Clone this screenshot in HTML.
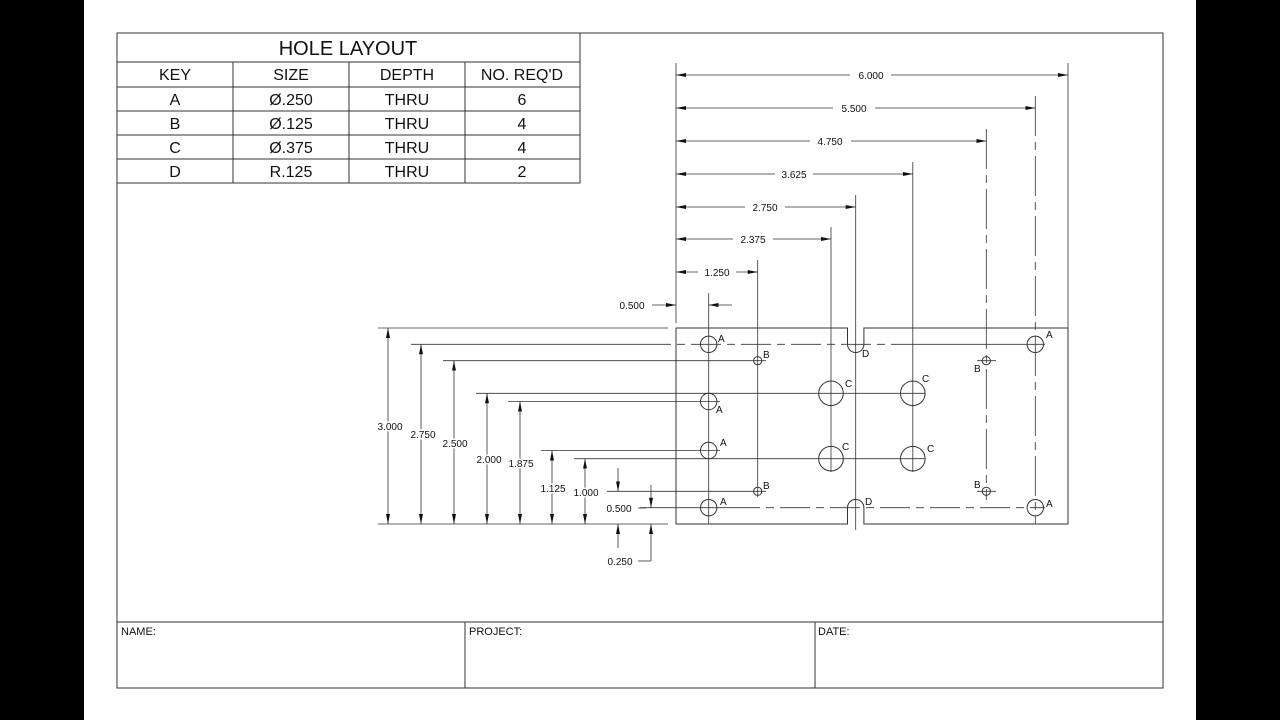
<!DOCTYPE html>
<html><head><style>
html,body{margin:0;padding:0;background:#000;}
svg{display:block;}
text{font-family:"Liberation Sans",sans-serif;fill:#111;}
</style></head><body>
<svg width="1280" height="720" viewBox="0 0 1280 720" xmlns="http://www.w3.org/2000/svg">
<defs>
<marker id="ar" viewBox="0 0 10 4" refX="10" refY="2" markerWidth="10" markerHeight="4" markerUnits="userSpaceOnUse" orient="auto-start-reverse"><path d="M0,0L10,2L0,4z" fill="#111"/></marker>
</defs>
<rect x="84" y="0" width="1112" height="720" fill="#fff"/>
<g stroke="#333" stroke-width="1" fill="none">
<rect x="117" y="33" width="1046" height="655"/>
<line x1="117" y1="622" x2="1163" y2="622"/>
<line x1="465" y1="622" x2="465" y2="688"/>
<line x1="815" y1="622" x2="815" y2="688"/>
<!-- table -->
<polyline points="117,33 580,33 580,183 117,183"/>
<line x1="117" y1="62" x2="580" y2="62"/>
<line x1="117" y1="87" x2="580" y2="87"/>
<line x1="117" y1="111" x2="580" y2="111"/>
<line x1="117" y1="135" x2="580" y2="135"/>
<line x1="117" y1="159" x2="580" y2="159"/>
<line x1="233" y1="62" x2="233" y2="183"/>
<line x1="349" y1="62" x2="349" y2="183"/>
<line x1="465" y1="62" x2="465" y2="183"/>
</g>
<g font-size="16" text-anchor="middle">
<text x="348" y="55" font-size="20">HOLE LAYOUT</text>
<text x="175" y="80">KEY</text><text x="291" y="80">SIZE</text><text x="407" y="80">DEPTH</text><text x="522" y="80">NO. REQ'D</text>
<text x="175" y="105">A</text><text x="291" y="105">Ø.250</text><text x="407" y="105">THRU</text><text x="522" y="105">6</text>
<text x="175" y="129">B</text><text x="291" y="129">Ø.125</text><text x="407" y="129">THRU</text><text x="522" y="129">4</text>
<text x="175" y="153">C</text><text x="291" y="153">Ø.375</text><text x="407" y="153">THRU</text><text x="522" y="153">4</text>
<text x="175" y="177">D</text><text x="291" y="177">R.125</text><text x="407" y="177">THRU</text><text x="522" y="177">2</text>
</g>
<g font-size="11"><text x="121" y="635">NAME:</text><text x="469" y="635">PROJECT:</text><text x="818" y="635">DATE:</text></g>

<!-- part outline -->
<g stroke="#333" stroke-width="1" fill="none">
<path d="M847.5,328 L676,328 L676,524 L847.5,524 L847.5,507.7 A8.2,8.2 0 0 1 863.9,507.7 L863.9,524 L1068,524 L1068,328 L863.9,328 L863.9,344.3 A8.2,8.2 0 0 1 847.5,344.3 Z"/>
<!-- holes -->
<circle cx="708.7" cy="344.3" r="8.2"/><circle cx="708.7" cy="401.5" r="8.2"/><circle cx="708.7" cy="450.5" r="8.2"/><circle cx="708.7" cy="507.7" r="8.2"/>
<circle cx="1035.3" cy="344.3" r="8.2"/><circle cx="1035.3" cy="507.7" r="8.2"/>
<circle cx="757.7" cy="360.7" r="4.1"/><circle cx="757.7" cy="491.3" r="4.1"/>
<circle cx="986.3" cy="360.7" r="4.1"/><circle cx="986.3" cy="491.3" r="4.1"/>
<circle cx="831" cy="393.3" r="12.3"/><circle cx="831" cy="458.7" r="12.3"/>
<circle cx="912.8" cy="393.3" r="12.3"/><circle cx="912.8" cy="458.7" r="12.3"/>
</g>
<!-- centerlines / extension lines -->
<g stroke="#333" stroke-width="0.8" fill="none">
<!-- vertical extension lines from top -->
<line x1="676" y1="63" x2="676" y2="323"/>
<line x1="1068" y1="63" x2="1068" y2="328"/>
<line x1="1035.3" y1="96" x2="1035.3" y2="524" stroke-dasharray="40,6,8,6"/>
<line x1="986.3" y1="129" x2="986.3" y2="500" stroke-dasharray="40,6,8,6"/>
<line x1="912.8" y1="162" x2="912.8" y2="472"/>
<line x1="855.7" y1="195" x2="855.7" y2="530"/>
<line x1="831" y1="227" x2="831" y2="472"/>
<line x1="757.7" y1="260" x2="757.7" y2="497"/>
<line x1="708.7" y1="293" x2="708.7" y2="524"/>
<!-- horizontal lines -->
<line x1="378" y1="328" x2="668" y2="328"/>
<line x1="378" y1="524" x2="668" y2="524"/>
<line x1="411" y1="344.3" x2="1045" y2="344.3" stroke-dasharray="260,6,8,6,30,6,8,6,30,6,8,6,30,6,8,6,30,6,8,6,200"/>
<line x1="443" y1="360.7" x2="766" y2="360.7"/>
<line x1="977" y1="360.7" x2="996" y2="360.7"/>
<line x1="476" y1="393.3" x2="925" y2="393.3"/>
<line x1="508" y1="401.5" x2="720" y2="401.5"/>
<line x1="541" y1="450.5" x2="720" y2="450.5"/>
<line x1="574" y1="458.7" x2="925" y2="458.7"/>
<line x1="607" y1="491.3" x2="766" y2="491.3"/>
<line x1="977" y1="491.3" x2="996" y2="491.3"/>
<line x1="640" y1="507.7" x2="1045" y2="507.7" stroke-dasharray="120,6,8,6,30,6,8,6,30,6,8,6,30,6,8,6,30,6,8,6,30,6,8,6,30,6,8,6,300"/>
</g>
<!-- horizontal dims -->
<g stroke="#333" stroke-width="0.8" fill="none">
<line x1="676" y1="75" x2="850" y2="75" marker-start="url(#ar)"/><line x1="891" y1="75" x2="1068" y2="75" marker-end="url(#ar)"/>
<line x1="676" y1="108" x2="833" y2="108" marker-start="url(#ar)"/><line x1="875" y1="108" x2="1035.3" y2="108" marker-end="url(#ar)"/>
<line x1="676" y1="141" x2="810" y2="141" marker-start="url(#ar)"/><line x1="851" y1="141" x2="986.3" y2="141" marker-end="url(#ar)"/>
<line x1="676" y1="174" x2="775" y2="174" marker-start="url(#ar)"/><line x1="813" y1="174" x2="912.8" y2="174" marker-end="url(#ar)"/>
<line x1="676" y1="207" x2="745" y2="207" marker-start="url(#ar)"/><line x1="785" y1="207" x2="855.7" y2="207" marker-end="url(#ar)"/>
<line x1="676" y1="239" x2="733" y2="239" marker-start="url(#ar)"/><line x1="773" y1="239" x2="831" y2="239" marker-end="url(#ar)"/>
<line x1="676" y1="272" x2="698" y2="272" marker-start="url(#ar)"/><line x1="736" y1="272" x2="757.7" y2="272" marker-end="url(#ar)"/>
<line x1="652" y1="305" x2="676" y2="305" marker-end="url(#ar)"/><line x1="732" y1="305" x2="708.7" y2="305" marker-end="url(#ar)"/>
</g>
<g font-size="10" text-anchor="middle">
<text x="871" y="79">6.000</text><text x="854" y="112">5.500</text><text x="830" y="145">4.750</text>
<text x="794" y="178">3.625</text><text x="765" y="211">2.750</text><text x="753" y="243">2.375</text>
<text x="717" y="276">1.250</text><text x="632" y="309">0.500</text>
</g>
<!-- vertical dims -->
<g stroke="#333" stroke-width="0.8" fill="none">
<line x1="388" y1="328" x2="388" y2="524" marker-start="url(#ar)" marker-end="url(#ar)"/>
<line x1="421" y1="344.3" x2="421" y2="524" marker-start="url(#ar)" marker-end="url(#ar)"/>
<line x1="454" y1="360.7" x2="454" y2="524" marker-start="url(#ar)" marker-end="url(#ar)"/>
<line x1="487" y1="393.3" x2="487" y2="524" marker-start="url(#ar)" marker-end="url(#ar)"/>
<line x1="520" y1="401.5" x2="520" y2="524" marker-start="url(#ar)" marker-end="url(#ar)"/>
<line x1="552" y1="450.5" x2="552" y2="524" marker-start="url(#ar)" marker-end="url(#ar)"/>
<line x1="585" y1="458.7" x2="585" y2="524" marker-start="url(#ar)" marker-end="url(#ar)"/>
<line x1="618" y1="468" x2="618" y2="491.3" marker-end="url(#ar)"/>
<line x1="618" y1="548" x2="618" y2="524" marker-end="url(#ar)"/>
<line x1="651" y1="485" x2="651" y2="507.7" marker-end="url(#ar)"/>
<line x1="651" y1="561" x2="651" y2="524" marker-end="url(#ar)"/>
<line x1="638" y1="561" x2="651" y2="561"/>
<line x1="638" y1="508" x2="646" y2="508"/>
</g>
<g font-size="10" text-anchor="middle" paint-order="stroke" stroke="#fff" stroke-width="3">
<text x="390" y="430">3.000</text><text x="423" y="438">2.750</text><text x="455" y="447">2.500</text>
<text x="489" y="463">2.000</text><text x="521" y="467">1.875</text><text x="553" y="492">1.125</text>
<text x="586" y="496">1.000</text><text x="619" y="512">0.500</text><text x="620" y="565">0.250</text>
</g>
<g font-size="10">
<text x="718" y="342">A</text><text x="716" y="413">A</text><text x="720" y="446">A</text><text x="720" y="505">A</text>
<text x="1046" y="338">A</text><text x="1046" y="507">A</text>
<text x="763" y="358">B</text><text x="763" y="489">B</text><text x="974" y="372">B</text><text x="974" y="488">B</text>
<text x="845" y="387">C</text><text x="842" y="450">C</text><text x="922" y="382">C</text><text x="927" y="452">C</text>
<text x="862" y="357">D</text><text x="865" y="505">D</text>
</g>
</svg>
</body></html>
